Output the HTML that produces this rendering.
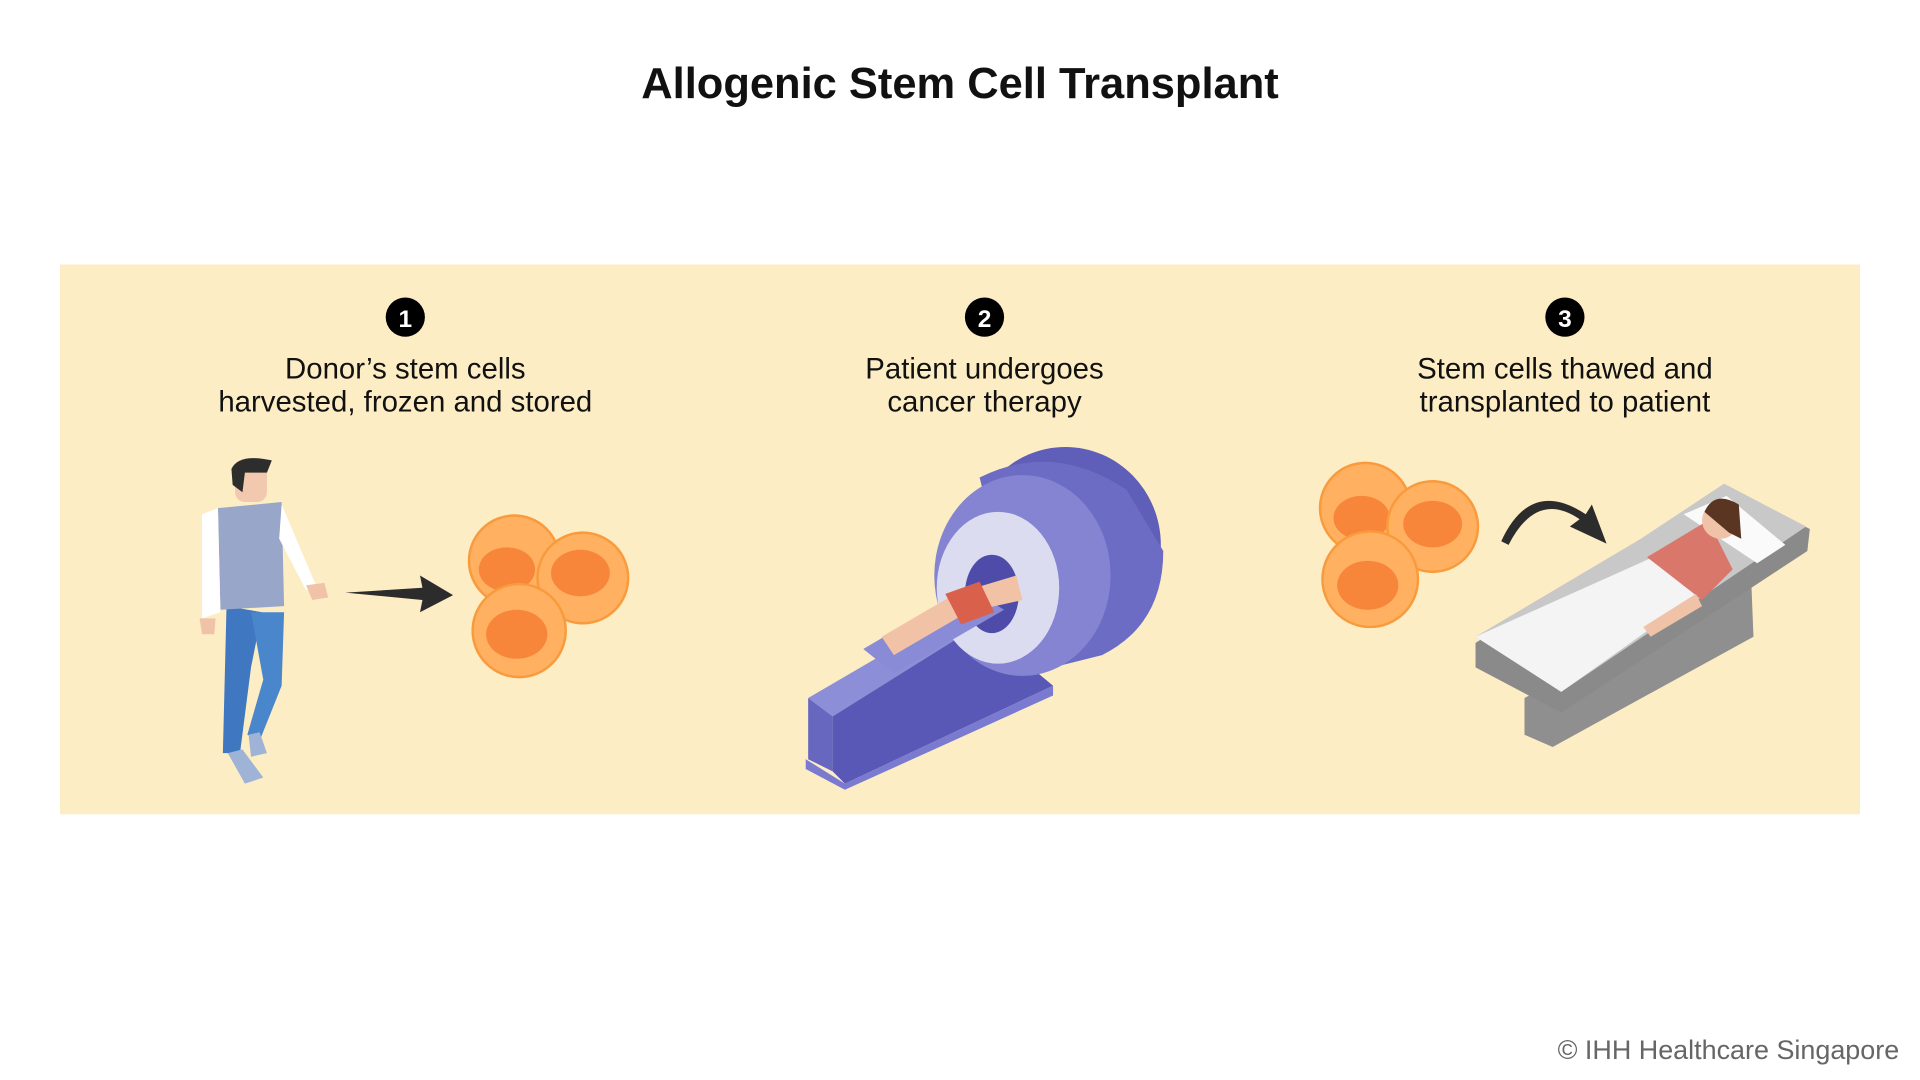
<!DOCTYPE html>
<html><head><meta charset="utf-8"><style>
html,body{margin:0;padding:0;background:#fff;overflow:hidden;width:1920px;height:1080px}
#w{width:1568px;height:882px;transform:scale(1.2245);transform-origin:0 0;position:relative}
svg text{font-family:"Liberation Sans",sans-serif}
</style></head><body><div id="w">
<svg width="1568" height="882" viewBox="0 0 1568 882">
<rect x="49" y="216" width="1470" height="449" fill="#fdedc4"/>
<text x="784" y="80" text-anchor="middle" font-size="35.5" font-weight="bold" fill="#111">Allogenic Stem Cell Transplant</text>
<g font-size="24" fill="#111" text-anchor="middle">
<circle cx="331" cy="259" r="16" fill="#000"/><text x="331" y="267" fill="#fff" font-weight="bold" font-size="20">1</text>
<circle cx="804" cy="259" r="16" fill="#000"/><text x="804" y="267" fill="#fff" font-weight="bold" font-size="20">2</text>
<circle cx="1278" cy="259" r="16" fill="#000"/><text x="1278" y="267" fill="#fff" font-weight="bold" font-size="20">3</text>
<text x="331" y="309">Donor’s stem cells</text><text x="331" y="336">harvested, frozen and stored</text>
<text x="804" y="309">Patient undergoes</text><text x="804" y="336">cancer therapy</text>
<text x="1278" y="309">Stem cells thawed and</text><text x="1278" y="336">transplanted to patient</text>
</g>
<text x="1551" y="865" text-anchor="end" font-size="22" fill="#666">© IHH Healthcare Singapore</text>
<!-- donor -->
<g>
<path d="M185 495 L182 615 L196 615 L205 545 L214 500 Z" fill="#3f78c0"/>
<path d="M205 500 L232 500 L230 560 L212 605 L202 600 L215 555 Z" fill="#4a86cc"/>
<path d="M186 615 L200 640 L215 635 L198 612Z" fill="#9fb3d6"/>
<path d="M203 600 L205 618 L218 615 L212 598Z" fill="#9fb3d6"/>
<path d="M178 415 L230 410 L232 495 L180 498 Z" fill="#97a6c9"/>
<path d="M165 420 L178 415 L180 500 L165 505 Z" fill="#fff"/>
<path d="M230 412 L258 478 L250 482 L228 440Z" fill="#fff"/>
<path d="M250 478 L265 476 L268 488 L255 490Z" fill="#f0c2a8"/>
<path d="M163 505 L176 505 L175 518 L165 518Z" fill="#f0c2a8"/>
<rect x="192" y="378" width="26" height="32" rx="8" fill="#f2c9ae"/>
<path d="M189 383 Q195 370 222 376 L218 386 L200 386 L198 402 L190 396Z" fill="#2d2d2d"/>
<path d="M282 484 L345 480 L343 470 L370 486 L343 500 L345 490 Z" fill="#2c2c2c"/>
</g>
<g>
<circle cx="420" cy="458" r="37" fill="#ffb060" stroke="#f99a3c" stroke-width="2"/><ellipse cx="414" cy="465" rx="23" ry="18" fill="#f7853a"/>
<circle cx="476" cy="472" r="37" fill="#ffb060" stroke="#f99a3c" stroke-width="2"/><ellipse cx="474" cy="468" rx="24" ry="19" fill="#f7853a"/>
<circle cx="424" cy="515" r="38" fill="#ffb060" stroke="#f99a3c" stroke-width="2"/><ellipse cx="422" cy="518" rx="25" ry="20" fill="#f7853a"/>
</g>
<!-- MRI -->
<g>
<path d="M660 570 L780 500 L800 510 L680 585Z" fill="#8d8ed8"/>
<path d="M660 570 L680 585 L680 630 L660 620Z" fill="#6767c0"/>
<path d="M680 585 L800 510 L860 560 L690 640 L680 630Z" fill="#5a58b6"/>
<path d="M658 620 L690 640 L860 560 L860 568 L690 645 L658 628Z" fill="#7a7bd0"/>
<ellipse cx="870" cy="445" rx="78" ry="80" fill="#5f5eb8"/>
<path d="M800 390 Q860 360 920 400 L950 450 Q950 510 900 535 L840 550Z" fill="#6d6cc4"/>
<ellipse cx="835" cy="470" rx="72" ry="82" fill="#8484d2"/>
<ellipse cx="815" cy="480" rx="50" ry="62" fill="#dcdcf0"/>
<ellipse cx="810" cy="485" rx="22" ry="32" fill="#4e4ca8"/>
<path d="M705 530 L790 480 L820 498 L730 550Z" fill="#8a8bd6"/>
<path d="M720 520 L780 485 L830 470 L835 490 L790 500 L730 535Z" fill="#f2c2a6"/>
<path d="M772 485 L800 475 L812 500 L785 510Z" fill="#d9614c"/>
</g>
<!-- cells step 3 -->
<g>
<circle cx="1115" cy="415" r="37" fill="#ffb060" stroke="#f99a3c" stroke-width="2"/><ellipse cx="1112" cy="423" rx="23" ry="18" fill="#f7853a"/>
<circle cx="1170" cy="430" r="37" fill="#ffb060" stroke="#f99a3c" stroke-width="2"/><ellipse cx="1170" cy="428" rx="24" ry="19" fill="#f7853a"/>
<circle cx="1119" cy="473" r="39" fill="#ffb060" stroke="#f99a3c" stroke-width="2"/><ellipse cx="1117" cy="478" rx="25" ry="20" fill="#f7853a"/>
<path d="M1226 442 Q1250 390 1295 420 L1300 412 L1312 444 L1282 430 L1290 424 Q1255 400 1232 445Z" fill="#2c2c2c"/>
</g>
<!-- bed -->
<g>
<path d="M1245 570 L1430 470 L1432 520 L1268 610 L1245 600Z" fill="#8f8f8f"/>
<path d="M1205 525 L1410 398 L1478 432 L1476 450 L1275 582 L1205 545Z" fill="#8a8a8a"/>
<path d="M1205 520 L1340 440 L1408 395 L1475 430 L1275 565Z" fill="#c8c8c8"/>
<path d="M1205 520 L1350 455 L1395 480 L1275 565Z" fill="#f4f4f4"/>
<path d="M1375 420 L1410 405 L1458 445 L1435 460Z" fill="#fafafa"/>
<path d="M1345 455 L1395 425 L1415 465 L1390 490Z" fill="#d9786a"/>
<circle cx="1405" cy="425" r="15" fill="#f0c2a8"/>
<path d="M1392 418 Q1400 400 1420 412 L1422 440 L1412 435 Z" fill="#5a3622"/>
<path d="M1342 512 L1385 485 L1390 495 L1348 520Z" fill="#f0c2a8"/>
</g>
</svg>
</div></body></html>
